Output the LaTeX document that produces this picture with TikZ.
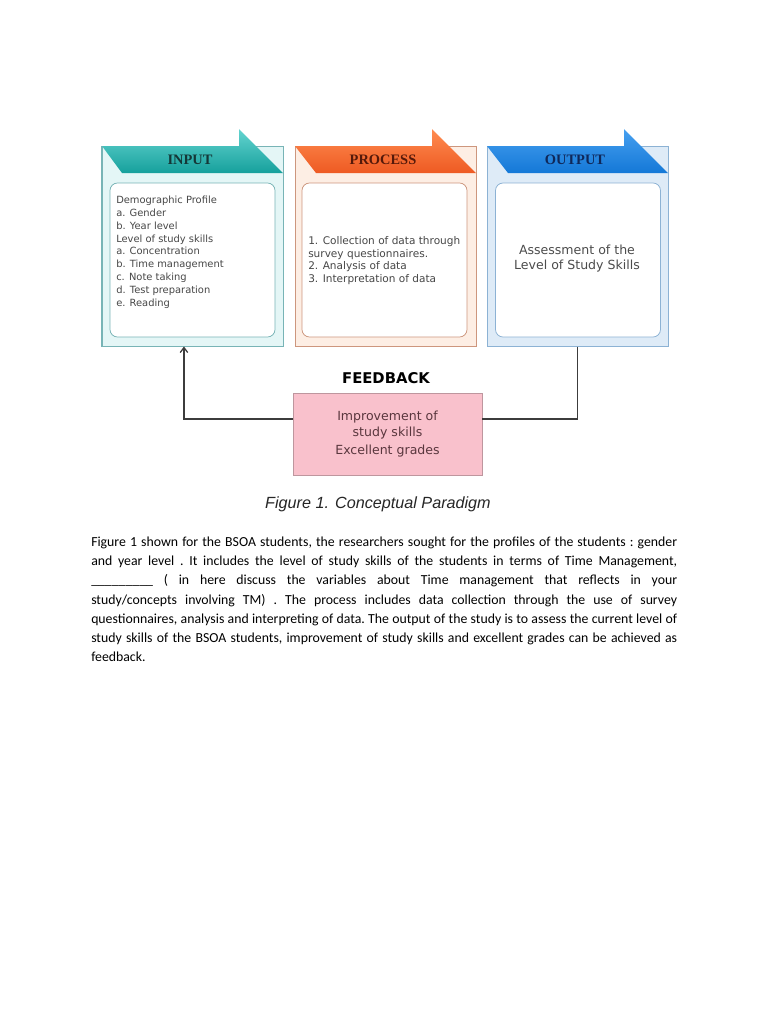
\documentclass[tikz,border=0pt]{standalone}
\usepackage{fontspec}
\setmainfont{Carlito}
\newfontfamily\boxfont{DejaVu Sans}
\newfontfamily\headfont{Liberation Serif}
\newfontfamily\capfont{Liberation Sans}
\usepackage{tikz}
\usetikzlibrary{arrows.meta, positioning}
\newcommand{\px}{0.797pt}

\definecolor{inlight}{RGB}{100,212,208}
\definecolor{indark}{RGB}{22,160,156}
\definecolor{inback}{RGB}{228,246,246}
\definecolor{inbord}{RGB}{120,180,182}
\definecolor{inhtext}{RGB}{20,55,55}
\definecolor{prlight}{RGB}{255,140,80}
\definecolor{prdark}{RGB}{238,90,35}
\definecolor{prback}{RGB}{253,238,228}
\definecolor{prbord}{RGB}{205,150,125}
\definecolor{prhtext}{RGB}{85,25,10}
\definecolor{oulight}{RGB}{70,160,240}
\definecolor{oudark}{RGB}{20,120,215}
\definecolor{ouback}{RGB}{222,235,247}
\definecolor{oubord}{RGB}{140,178,212}
\definecolor{ouhtext}{RGB}{15,40,90}
\definecolor{fbpink}{RGB}{249,193,204}
\definecolor{fbbord}{RGB}{190,150,158}
\definecolor{fbtext}{RGB}{90,55,62}
\definecolor{linecol}{RGB}{60,60,60}

\tikzstyle{outerbox} = [rectangle, minimum width=181*\px, minimum height=200*\px, line width=0.8pt, inner sep=0pt]
\tikzstyle{innerbox} = [rectangle, rounded corners=6pt, minimum width=165*\px, minimum height=154*\px, fill=white, line width=0.6pt, inner sep=0pt]
\tikzstyle{head} = [font=\headfont\bfseries\fontsize{11.5}{13}\selectfont, inner sep=0pt]
\tikzstyle{listtext} = [font=\boxfont\fontsize{7.9}{10.2}\selectfont, text=black!72, align=left, inner sep=0pt]
\tikzstyle{fbbox} = [rectangle, minimum width=189*\px, minimum height=82*\px, fill=fbpink, draw=fbbord, line width=0.6pt, text=fbtext, align=center, font=\boxfont\fontsize{10}{12.2}\selectfont]
\tikzstyle{link} = [draw=linecol, line width=1pt]
\tikzstyle{arrow} = [link, ->, >={Straight Barb[length=4pt, width=6pt]}]

\begin{document}
\begin{tikzpicture}[x=\px, y=-\px]
\fill[white] (0,0) rectangle (768,1024);
\useasboundingbox (0,0) rectangle (768,1024);

% input column
\node (input) [outerbox, draw=inbord, fill=inback] at (192.5,246) {};
\shade[top color=inlight, bottom color=indark] (102,146) -- (239,146) -- (239,129) -- (283,173) -- (122,173) -- cycle;
\node (inhead) [head, text=inhtext] at (190,160) {INPUT};
\node (inbox) [innerbox, draw=inbord] at (192.5,260) {};
\node (intext) [listtext, anchor=north west] at (116,196) {Demographic Profile\\a. Gender\\b. Year level\\Level of study skills\\a. Concentration\\b. Time management\\c. Note taking\\d. Test preparation\\e. Reading};

% process column
\node (process) [outerbox, draw=prbord, fill=prback] at (385.5,246) {};
\shade[top color=prlight, bottom color=prdark] (295,146) -- (432,146) -- (432,129) -- (476,173) -- (316,173) -- cycle;
\node (prhead) [head, text=prhtext] at (383,160) {PROCESS};
\node (prbox) [innerbox, draw=prbord] at (384.5,260) {};
\node (prtext) [listtext, font=\boxfont\fontsize{8.4}{10.2}\selectfont, anchor=north west] at (308,236) {1. Collection of data through\\survey questionnaires.\\2. Analysis of data\\3. Interpretation of data};

% output column
\node (output) [outerbox, draw=oubord, fill=ouback] at (577.5,246) {};
\shade[top color=oulight, bottom color=oudark] (487,146) -- (624,146) -- (624,129) -- (668,173) -- (508,173) -- cycle;
\node (ouhead) [head, text=ouhtext] at (575,160) {OUTPUT};
\node (oubox) [innerbox, draw=oubord] at (578,260) {};
\node (outext) [font=\boxfont\fontsize{10}{12}\selectfont, text=black!70, align=center] at (577,259) {Assessment of the\\Level of Study Skills};

% feedback
\node (fbtitle) [font=\boxfont\bfseries\fontsize{11.8}{13}\selectfont] at (386,378) {FEEDBACK};
\node (fb) [fbbox] at (387.5,434) {Improvement of\\study skills\\[2pt]Excellent grades};

\draw [link] (output.south) |- ([yshift=12pt]fb.east);
\draw [arrow] ([yshift=12pt]fb.west) -| ([xshift=-6.8pt]input.south);

% caption and text
\node (caption) [font=\capfont\itshape\fontsize{12.9}{15}\selectfont, text=black!85] at (378,504) {Figure 1. Conceptual Paradigm};
\node (para) [anchor=north west, text width=467pt, align=justify, inner sep=0pt, font=\fontsize{11}{15.2}\selectfont\frenchspacing] at (91,537) {Figure 1 shown for the BSOA students, the researchers sought for the profiles of the students : gender\linebreak
and year level . It includes the level of study skills of the students in terms of Time Management,\linebreak
\_\_\_\_\_\_\_\_\_ ( in here discuss the variables about Time management that reflects in your\linebreak
study/concepts involving TM) . The process includes data collection through the use of survey\linebreak
questionnaires, analysis and interpreting of data. The output of the study is to assess the current level of\linebreak
study skills of the BSOA students, improvement of study skills and excellent grades can be achieved as\linebreak
feedback.};

\end{tikzpicture}
\end{document}
